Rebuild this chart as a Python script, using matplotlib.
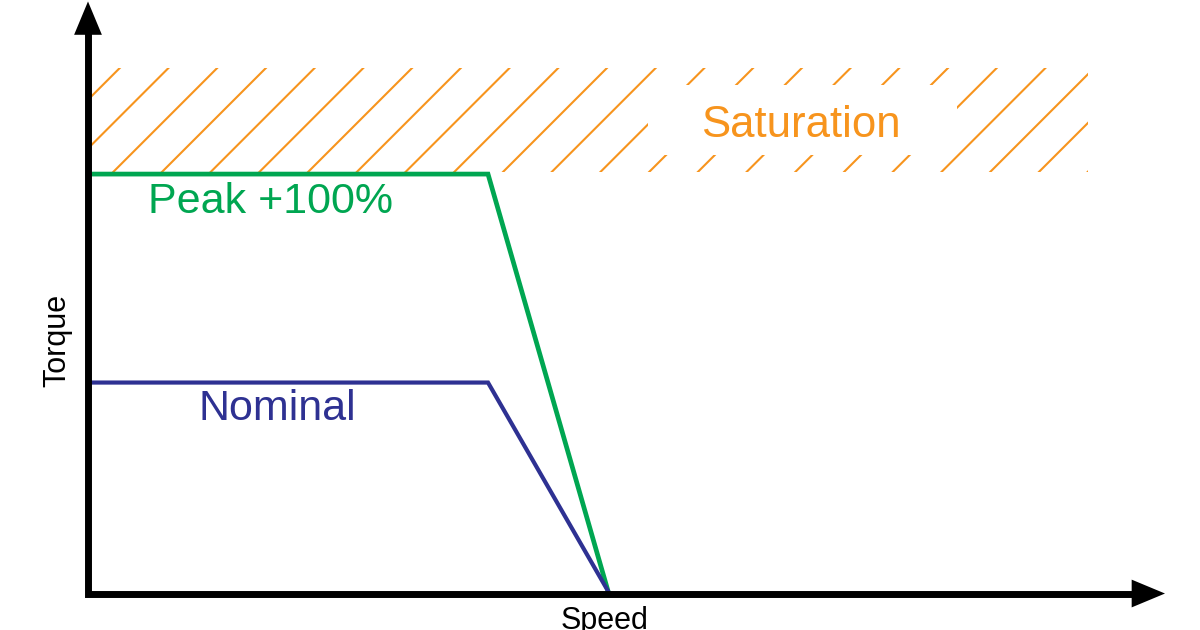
import numpy as np
import matplotlib.pyplot as plt
from matplotlib.patches import Rectangle

plt.rcParams['font.family'] = ['Liberation Sans', 'DejaVu Sans']

# ---- data (normalised units: nominal torque = 1, corner speed = 1) ----
speed_peak = [0.0, 1.0, 1.3]
torque_peak = [2.0, 2.0, 0.0]
speed_nom = [0.0, 1.0, 1.3]
torque_nom = [1.0, 1.0, 0.0]

sat_speed = (0.0, 2.5)      # saturation band extent
sat_torque = (2.01, 2.51)

GREEN = '#00A651'
BLUE = '#2E3192'
ORANGE = '#F7941D'

fig = plt.figure(figsize=(12, 6.3), dpi=100)
ax = fig.add_axes([0, 0, 1, 1])
ax.set_xlim(-0.22, 2.78)
ax.set_ylim(-0.187, 2.835)
ax.axis('off')

# ---- hatched saturation band ----
band = Rectangle((sat_speed[0], sat_torque[0]), sat_speed[1] - sat_speed[0],
                 sat_torque[1] - sat_torque[0], fc='none', ec='none')
ax.add_patch(band)
slope = 400 / 208.5          # 45 degrees on screen
spacing = 0.1218
for x0 in np.arange(0.063 - 3 * spacing, sat_speed[1] + spacing, spacing):
    xs = [x0, x0 + (sat_torque[1] - sat_torque[0] + 0.1) / slope]
    ys = [sat_torque[0], sat_torque[1] + 0.1]
    ln, = ax.plot(xs, ys, color=ORANGE, lw=1.5, zorder=1)
    ln.set_clip_path(band)

# white gap behind the label
ax.add_patch(Rectangle((1.40, 2.09), 0.7725, 0.337, fc='white', ec='none', zorder=2))
ax.text(1.783, 2.178, 'Saturation', color=ORANGE, fontsize=31.5,
        ha='center', va='baseline', zorder=5)

# ---- torque-speed curves ----
ax.plot(speed_peak, torque_peak, color=GREEN, lw=3.4, solid_joinstyle='miter', zorder=3)
ax.plot(speed_nom, torque_nom, color=BLUE, lw=3.0, solid_joinstyle='miter', zorder=3)
ax.text(0.15, 1.813, 'Peak +100%', color=GREEN, fontsize=31, va='baseline', zorder=5)
ax.text(0.275, 0.82, 'Nominal', color=BLUE, fontsize=31, va='baseline', zorder=5)

# ---- axes with arrows ----
ax.plot([0, 0, 2.62], [2.75, -0.012, -0.012], color='black', lw=5,
        solid_joinstyle='miter', solid_capstyle='butt', zorder=4)
head = dict(arrowstyle='-|>,head_length=2.4,head_width=1.0', mutation_scale=10,
            lw=0, fc='black', ec='black', shrinkA=0, shrinkB=0)
ax.annotate('', xy=(2.6925, -0.012), xytext=(2.4, -0.012), arrowprops=head, zorder=4)
ax.annotate('', xy=(0, 2.828), xytext=(0, 2.4), arrowprops=head, zorder=4)

ax.text(-0.0775, 1.204, 'Torque', fontsize=22, rotation=90,
        ha='center', va='center')
ax.text(1.2925, -0.072, 'Speed', fontsize=22, ha='center', va='top')

fig.savefig('out.png', dpi=100)
